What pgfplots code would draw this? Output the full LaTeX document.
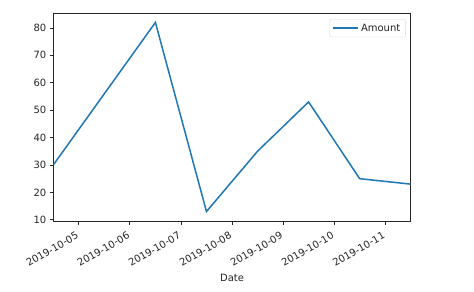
\documentclass[border=0pt]{standalone}
\usepackage{fontspec}
\setmainfont{DejaVu Sans}
\usepackage{pgfplots}
\pgfplotsset{compat=1.18}
\definecolor{mplblue}{HTML}{1F77B4}
\definecolor{txt}{HTML}{262626}
\begin{document}
\begin{tikzpicture}
\begin{axis}[
  name=ax,
  scale only axis,
  width=357.4bp, height=208bp,
  xmin=0, xmax=7,
  ymin=9.55, ymax=85.45,
  /pgf/number format/assume math mode=true,
  font=\fontsize{10bp}{12bp}\selectfont,
  tick label style={font=\fontsize{10bp}{12bp}\selectfont, text=txt},
  axis line style={draw=txt, line width=0.8bp},
  tick style={draw=txt, line width=0.8bp},
  tick align=outside,
  major tick length=3.5bp,
  xtick pos=bottom, ytick pos=left,
  xtick={0.5,1.5,2.5,3.5,4.5,5.5,6.5},
  xticklabels={2019-10-05,2019-10-06,2019-10-07,2019-10-08,2019-10-09,2019-10-10,2019-10-11},
  xticklabel style={rotate=30, anchor=north east, inner sep=1bp, xshift=-5bp, yshift=-3bp},
  ytick={10,20,30,40,50,60,70,80},
  xlabel={Date},
  xlabel style={at={(axis description cs:0.5,0)}, anchor=base, yshift=-60.5bp, text=txt},
  legend style={draw=black!15, rounded corners=2bp, font=\fontsize{10bp}{12bp}\selectfont, text=txt, at={(0.9855,0.971)}, anchor=north east, inner xsep=3bp, inner ysep=2.5bp},
  legend cell align=left,
  legend image code/.code={\draw[#1, line width=1.5bp] (0bp,0bp) -- (25bp,0bp);},
]
\addplot[mplblue, line width=1.5bp] coordinates {
  (0,30) (2,82) (3,13) (4,35) (5,53) (6,25) (7,23)
};
\addlegendentry{Amount}
\end{axis}
\pgfresetboundingbox
\path[use as bounding box] ([xshift=-53.3bp,yshift=-71bp]ax.south west) rectangle ([xshift=63.3bp,yshift=13bp]ax.north east);
\end{tikzpicture}
\end{document}
